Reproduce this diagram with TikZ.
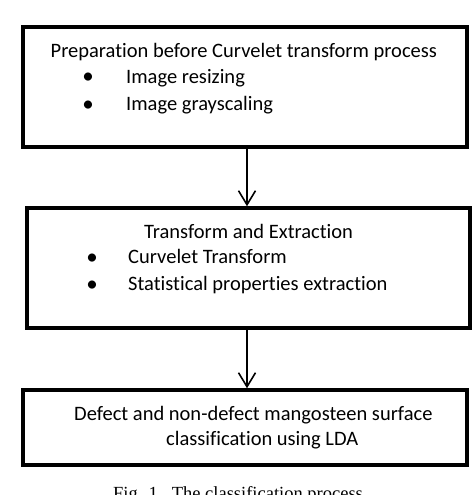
\documentclass[tikz,border=0pt]{standalone}
\usepackage{fontspec}
\setmainfont{Carlito}[Ligatures=CommonOff]
\newfontfamily\capfont{Liberation Serif}
\usetikzlibrary{arrows.meta}
\tikzset{
  stagebox/.style={draw, line width=3.5pt, inner sep=0pt},
  txt/.style={anchor=base west, inner sep=0pt, font=\fontsize{20.5}{24}\selectfont},
  dot/.style={anchor=base, inner sep=0pt, font=\fontsize{23}{24}\selectfont},
  flow/.style={line width=1.8pt, -{Straight Barb[length=14pt,width=17pt,line width=1.6pt]}}
}
\begin{document}
\begin{tikzpicture}[x=1pt,y=-1pt]
\useasboundingbox (0,0) rectangle (474,495);
% boxes
\node[stagebox, minimum width=444pt, minimum height=120pt] (prep) at (245,87) {};
\node[stagebox, minimum width=443pt, minimum height=120pt] (trans) at (248.5,268) {};
\node[stagebox, minimum width=444pt, minimum height=75pt] (classify) at (245,427.5) {};

% first box
\node[txt] (prepT) at (50.5,57) {Preparation before Curvelet transform process};
\node[dot] (prepB1) at (88,84) {•};
\node[txt] (prepI1) at (126,83) {Image resizing};
\node[dot] (prepB2) at (88,111) {•};
\node[txt] (prepI2) at (126,110) {Image grayscaling};

% second box
\node[txt] (transT) at (144,238) {Transform and Extraction};
\node[dot] (transB1) at (92,264) {•};
\node[txt] (transI1) at (128,263) {Curvelet Transform};
\node[dot] (transB2) at (92,291) {•};
\node[txt] (transI2) at (128,290) {Statistical properties extraction};

% third box
\node[txt] (clsA) at (74,420) {Defect and non-defect mangosteen surface};
\node[txt] (clsB) at (166,445) {classification using LDA};

% arrows
\draw[flow] ([xshift=2pt]prep.south) -- ([xshift=2pt]prep.south |- trans.north);
\draw[flow] ([xshift=2pt]prep.south |- trans.south) -- ([xshift=2pt]prep.south |- classify.north);

% caption
\clip (0,0) rectangle (474,495);
\node[anchor=base west, inner sep=0pt, font=\capfont\fontsize{18.5}{21}\selectfont] (cap) at (113,499) {Fig. 1.\ \ The classification process};
\end{tikzpicture}
\end{document}
